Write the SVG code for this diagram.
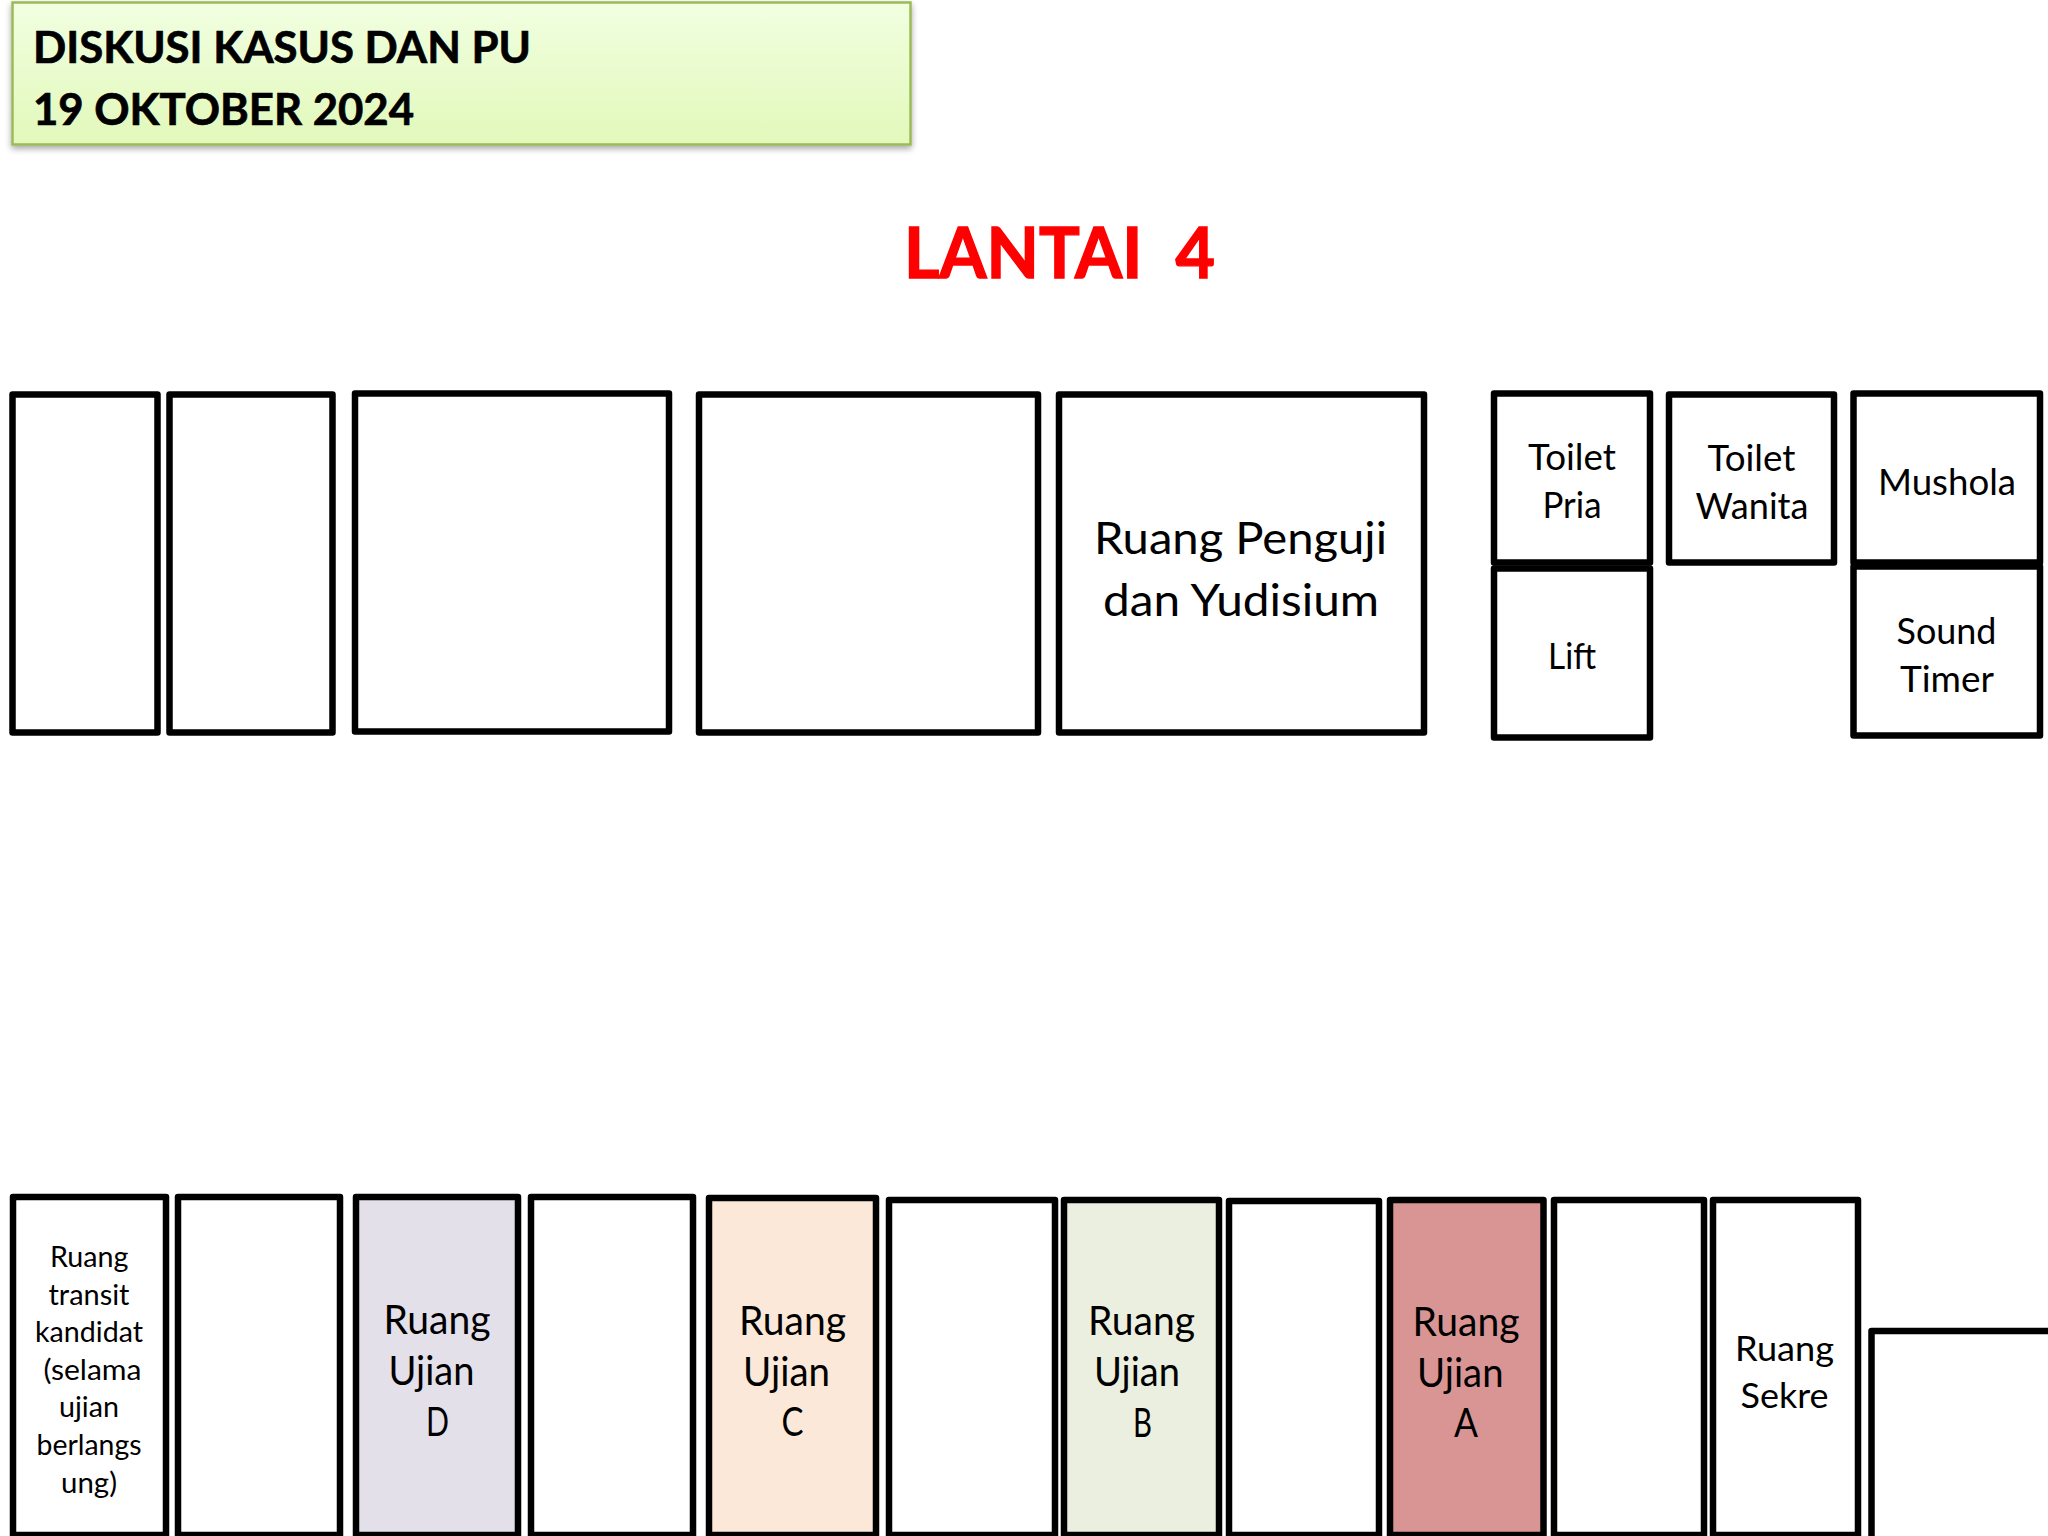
<svg xmlns="http://www.w3.org/2000/svg" width="2048" height="1536" viewBox="0 0 2048 1536">
<style>
.room{fill:#fff;stroke:#000;stroke-width:6.5;stroke-linejoin:round}
text{font-family:"Lato","Open Sans","Liberation Sans",sans-serif;fill:#000}
.hd{font-size:44px;font-weight:700;stroke:#000;stroke-width:.7px}
.t48{font-size:44px}.t40{font-size:37px}.t44{font-size:40px}.t36{font-size:34px}.t29{font-size:28px}
.title{font-size:70px;font-weight:700;fill:#f00;stroke:#f00;stroke-width:1.4px}
</style>
<defs>
<linearGradient id="hg" x1="0" y1="0" x2="0" y2="1"><stop offset="0" stop-color="#f1ffe0"/><stop offset="1" stop-color="#e2f8bb"/></linearGradient>
<filter id="sh" x="-3%" y="-10%" width="106%" height="125%"><feDropShadow dx="0" dy="3" stdDeviation="3" flood-color="#000" flood-opacity="0.35"/></filter>
</defs>
<rect width="2048" height="1536" fill="#fff"/>
<g id="header">
<rect x="12.5" y="2.5" width="898" height="142" fill="url(#hg)" stroke="#9bbb59" stroke-width="2.5" filter="url(#sh)"/>
<text class="hd" x="33" y="63" textLength="498" lengthAdjust="spacingAndGlyphs">DISKUSI KASUS DAN PU</text>
<text class="hd" x="33" y="125" textLength="381" lengthAdjust="spacingAndGlyphs">19 OKTOBER 2024</text>
</g>
<text id="title" class="title" x="904" y="278" textLength="311" lengthAdjust="spacingAndGlyphs" xml:space="preserve">LANTAI  4</text>
<g id="top-row">
<g id="room-t1"><rect class="room" x="12.5" y="394.5" width="145" height="338"/></g>
<g id="room-t2"><rect class="room" x="169.5" y="394.5" width="163" height="338"/></g>
<g id="room-t3"><rect class="room" x="355" y="393.5" width="314" height="338"/></g>
<g id="room-t4"><rect class="room" x="699" y="394.5" width="339" height="338"/></g>
<g id="room-penguji"><rect class="room" x="1059" y="394.5" width="365" height="338"/>
<text class="t48" x="1094" y="553.5" textLength="293" lengthAdjust="spacingAndGlyphs">Ruang Penguji</text>
<text class="t48" x="1103" y="615.5" textLength="276" lengthAdjust="spacingAndGlyphs">dan Yudisium</text></g>
<g id="toilet-pria"><rect class="room" x="1494" y="393.5" width="156" height="169"/>
<text class="t40" x="1528" y="470" textLength="88" lengthAdjust="spacingAndGlyphs">Toilet</text>
<text class="t40" x="1542.500" y="518" textLength="59" lengthAdjust="spacingAndGlyphs">Pria</text></g>
<g id="lift"><rect class="room" x="1494" y="568.5" width="156" height="169"/>
<text class="t40" x="1548" y="669" textLength="48" lengthAdjust="spacingAndGlyphs">Lift</text></g>
<g id="toilet-wanita"><rect class="room" x="1669" y="394.5" width="165" height="168"/>
<text class="t40" x="1707.500" y="471" textLength="88" lengthAdjust="spacingAndGlyphs">Toilet</text>
<text class="t40" x="1695.500" y="519" textLength="113" lengthAdjust="spacingAndGlyphs">Wanita</text></g>
<g id="mushola"><rect class="room" x="1853.500" y="393.5" width="186.500" height="169"/>
<text class="t40" x="1878" y="495" textLength="138" lengthAdjust="spacingAndGlyphs">Mushola</text></g>
<g id="sound-timer"><rect class="room" x="1853.500" y="566.5" width="186.500" height="169"/>
<text class="t40" x="1896.500" y="644" textLength="100" lengthAdjust="spacingAndGlyphs">Sound</text>
<text class="t40" x="1900" y="692" textLength="94" lengthAdjust="spacingAndGlyphs">Timer</text></g>
</g>
<g id="bottom-row">
<g id="room-transit"><rect class="room" x="13" y="1197" width="153" height="338"/>
<text class="t29" x="50" y="1267" textLength="78.500" lengthAdjust="spacingAndGlyphs">Ruang</text>
<text class="t29" x="48.500" y="1305" textLength="81" lengthAdjust="spacingAndGlyphs">transit</text>
<text class="t29" x="35" y="1342" textLength="108" lengthAdjust="spacingAndGlyphs">kandidat</text>
<text class="t29" x="43.500" y="1380" textLength="98" lengthAdjust="spacingAndGlyphs">(selama</text>
<text class="t29" x="59" y="1417" textLength="60" lengthAdjust="spacingAndGlyphs">ujian</text>
<text class="t29" x="36.500" y="1455" textLength="105" lengthAdjust="spacingAndGlyphs">berlangs</text>
<text class="t29" x="61" y="1493" textLength="56" lengthAdjust="spacingAndGlyphs">ung)</text></g>
<g id="room-b2"><rect class="room" x="178" y="1197" width="162" height="338"/></g>
<g id="ruang-ujian-d"><rect class="room" x="356" y="1197" width="162" height="338" style="fill:#e3e0ea"/>
<text class="t44" x="383.500" y="1334" textLength="107" lengthAdjust="spacingAndGlyphs">Ruang</text>
<text class="t44" x="388.500" y="1385" textLength="86" lengthAdjust="spacingAndGlyphs">Ujian</text>
<text class="t44" x="426" y="1436" textLength="23" lengthAdjust="spacingAndGlyphs">D</text></g>
<g id="room-b4"><rect class="room" x="531" y="1197" width="162" height="338"/></g>
<g id="ruang-ujian-c"><rect class="room" x="709" y="1198" width="167" height="337" style="fill:#fbe8d8"/>
<text class="t44" x="739" y="1335" textLength="107" lengthAdjust="spacingAndGlyphs">Ruang</text>
<text class="t44" x="743" y="1386" textLength="87" lengthAdjust="spacingAndGlyphs">Ujian</text>
<text class="t44" x="781.500" y="1436" textLength="22" lengthAdjust="spacingAndGlyphs">C</text></g>
<g id="room-b6"><rect class="room" x="889" y="1200" width="166" height="335"/></g>
<g id="ruang-ujian-b"><rect class="room" x="1064" y="1200" width="155" height="335" style="fill:#ebefdf"/>
<text class="t44" x="1088" y="1335" textLength="107" lengthAdjust="spacingAndGlyphs">Ruang</text>
<text class="t44" x="1094" y="1386" textLength="86" lengthAdjust="spacingAndGlyphs">Ujian</text>
<text class="t44" x="1133" y="1437" textLength="19" lengthAdjust="spacingAndGlyphs">B</text></g>
<g id="room-b8"><rect class="room" x="1229" y="1201" width="150" height="334"/></g>
<g id="ruang-ujian-a"><rect class="room" x="1390" y="1200" width="153.500" height="335" style="fill:#d99594"/>
<text class="t44" x="1412.500" y="1335.500" textLength="107" lengthAdjust="spacingAndGlyphs">Ruang</text>
<text class="t44" x="1417" y="1386.500" textLength="86.500" lengthAdjust="spacingAndGlyphs">Ujian</text>
<text class="t44" x="1454" y="1437" textLength="24" lengthAdjust="spacingAndGlyphs">A</text></g>
<g id="room-b10"><rect class="room" x="1554" y="1200" width="150" height="335"/></g>
<g id="ruang-sekre"><rect class="room" x="1713" y="1200" width="145" height="335"/>
<text class="t36" x="1735" y="1360.500" textLength="99" lengthAdjust="spacingAndGlyphs">Ruang</text>
<text class="t36" x="1740.500" y="1407.500" textLength="88" lengthAdjust="spacingAndGlyphs">Sekre</text></g>
<g id="room-b12"><rect class="room" x="1871.500" y="1331" width="190" height="220"/></g>
</g>
</svg>
